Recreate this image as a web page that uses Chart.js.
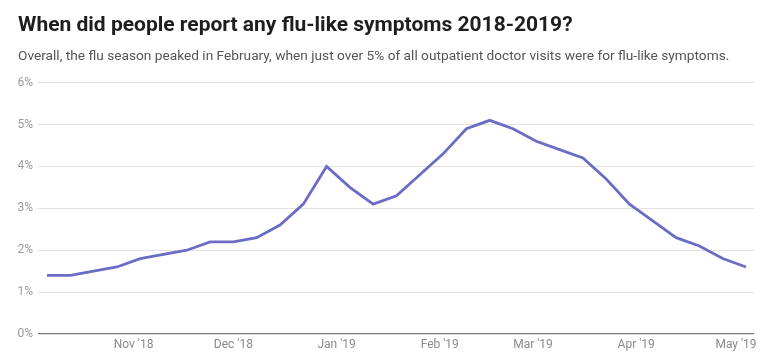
<!DOCTYPE html>
<html>
<head>
<meta charset="utf-8">
<script src="https://cdn.jsdelivr.net/npm/chart.js@4/dist/chart.umd.min.js"></script>
<style>
  html, body { margin: 0; padding: 0; background: #fff; }
  #wrap { width: 768px; height: 360px; position: relative; }
</style>
</head>
<body>
<div id="wrap"><canvas id="c" width="768" height="360"></canvas></div>
<script>
// ---- Data ----
const titleText = "When did people report any flu-like symptoms 2018-2019?";
const subtitleText = "Overall, the flu season peaked in February, when just over 5% of all outpatient doctor visits were for flu-like symptoms.";

// Week-ending dates (weekly, 2018-19 season)
const weekDates = [
  "2018-10-06","2018-10-13","2018-10-20","2018-10-27","2018-11-03","2018-11-10","2018-11-17",
  "2018-11-24","2018-12-01","2018-12-08","2018-12-15","2018-12-22","2018-12-29","2019-01-05",
  "2019-01-12","2019-01-19","2019-01-26","2019-02-02","2019-02-09","2019-02-16","2019-02-23",
  "2019-03-02","2019-03-09","2019-03-16","2019-03-23","2019-03-30","2019-04-06","2019-04-13",
  "2019-04-20","2019-04-27","2019-05-04"
];
// Percent of outpatient visits for flu-like illness
const iliPercent = [
  1.4, 1.4, 1.5, 1.6, 1.8, 1.9, 2.0,
  2.2, 2.2, 2.3, 2.6, 3.1, 4.0, 3.5,
  3.1, 3.3, 3.8, 4.3, 4.9, 5.1, 4.9,
  4.6, 4.4, 4.2, 3.7, 3.1, 2.7, 2.3,
  2.1, 1.8, 1.6
];
// X-axis tick labels (month starts)
const monthTickDates = ["2018-11-01","2018-12-01","2019-01-01","2019-02-01","2019-03-01","2019-04-01","2019-05-01"];
const monthTickLabels = ["Nov '18","Dec '18","Jan '19","Feb '19","Mar '19","Apr '19","May '19"];
// Y-axis ticks
const yTickValues = [0, 1, 2, 3, 4, 5, 6];

// ---- Helpers ----
const DAY = 86400000;
const originMs = Date.parse(weekDates[0] + "T00:00:00Z");
const toDay = s => (Date.parse(s + "T00:00:00Z") - originMs) / DAY;

const points = weekDates.map((d, i) => ({ x: toDay(d), y: iliPercent[i] }));
const monthTickDays = monthTickDates.map(toDay);
const lastDay = toDay(weekDates[weekDates.length - 1]);

Chart.defaults.font.family = "Roboto, 'Noto Sans', sans-serif";

new Chart(document.getElementById('c'), {
  type: 'line',
  data: {
    datasets: [{
      data: points,
      borderColor: '#6b6cc4',
      borderWidth: 2.8,
      pointRadius: 0,
      tension: 0,
      fill: false
    }]
  },
  options: {
    responsive: false,
    animation: false,
    layout: { padding: { left: 18, right: 14, top: 6, bottom: 0 } },
    plugins: {
      legend: { display: false },
      tooltip: { enabled: false },
      title: {
        display: true,
        text: titleText,
        align: 'start',
        color: '#1e1e1e',
        font: { size: 21, weight: 'bold' },
        padding: { top: 7, bottom: 10 }
      },
      subtitle: {
        display: true,
        text: subtitleText,
        align: 'start',
        color: '#555',
        font: { size: 13.7, weight: 'normal' },
        padding: { top: 0, bottom: 18 }
      }
    },
    scales: {
      x: {
        type: 'linear',
        min: -2.7,
        max: lastDay + 2.4,
        afterFit: (scale) => { scale.height = 26; },
        afterBuildTicks: (scale) => {
          scale.ticks = monthTickDays.map(v => ({ value: v }));
        },
        ticks: {
          autoSkip: false,
          maxRotation: 0,
          color: '#8a8a8a',
          font: { size: 12 },
          padding: 4,
          callback: (value, index) => monthTickLabels[index]
        },
        grid: { display: false, drawTicks: false },
        border: { display: false }
      },
      y: {
        min: 0,
        max: 6,
        afterFit: (scale) => { scale.width = 20; },
        afterBuildTicks: (scale) => {
          scale.ticks = yTickValues.map(v => ({ value: v }));
        },
        ticks: {
          color: '#9a9a9a',
          font: { size: 12 },
          padding: 5,
          callback: v => v + '%'
        },
        grid: {
          drawTicks: false,
          color: ctx => (ctx.tick && ctx.tick.value === 0) ? '#777' : '#e2e2e2',
          lineWidth: ctx => (ctx.tick && ctx.tick.value === 0) ? 1.3 : 1
        },
        border: { display: false }
      }
    }
  }
});
</script>
</body>
</html>
